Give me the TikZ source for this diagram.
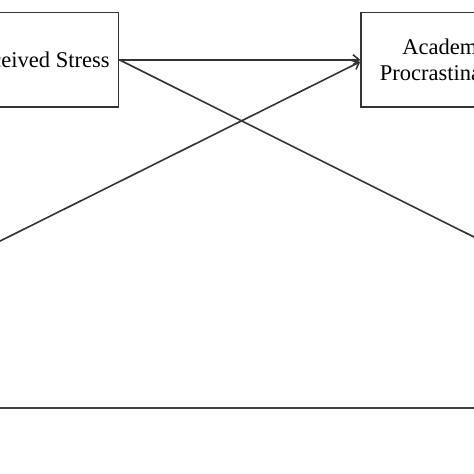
\documentclass[tikz,border=0pt]{standalone}
\usepackage{fontspec}
\setmainfont{Liberation Serif}
\usetikzlibrary{arrows.meta}

\begin{document}
\begin{tikzpicture}[x=1pt, y=-1pt,
  every node/.style={draw=black!80, line width=1.5pt, rectangle, minimum height=94.5pt, align=center, text=black, font=\fontsize{22.5}{25.5}\selectfont},
  link/.style={black!80, line width=1.6pt},
  arrow/.style={link, -{Straight Barb[length=6pt, width=10pt]}}]
\useasboundingbox (0,0) rectangle (474,474);
\node[minimum width=166pt] (stress) at (35.5,59.75) {Perceived Stress};
\node[minimum width=174pt] (procr) at (448,59.75) {Academic\\Procrastination};
\coordinate (lowleft) at (-40,261);
\coordinate (lowright) at (520,260);
\draw[arrow] (stress.east) -- (procr.west);
\draw[arrow] (lowleft) -- ([yshift=-2pt]procr.west);
\draw[link] (stress.east) -- (lowright);
\draw[black!75, line width=2.2pt] (-10,408) -- (484,408);
\end{tikzpicture}
\end{document}
